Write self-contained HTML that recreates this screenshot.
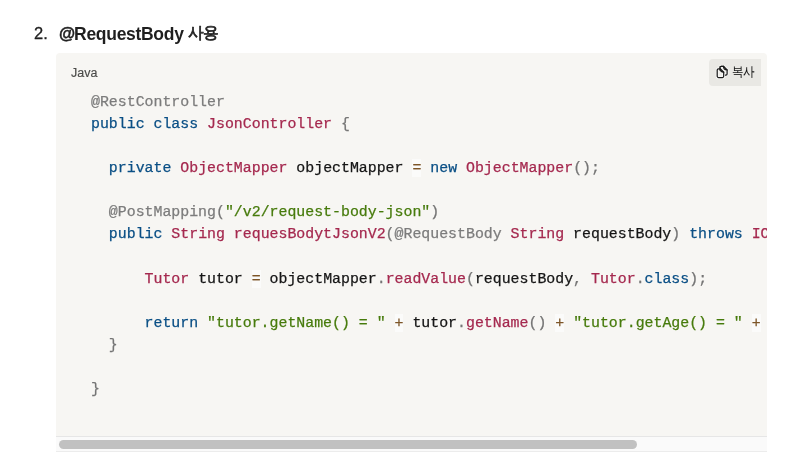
<!DOCTYPE html>
<html><head><meta charset="utf-8">
<style>
html,body{margin:0;padding:0;background:#fff;width:800px;height:455px;overflow:hidden;position:relative}
body{will-change:transform}
body{font-family:"Liberation Sans",sans-serif;color:#1f1f1f}
.h{position:absolute;top:0;left:0;font-size:16.5px;line-height:20px;white-space:nowrap}
.num{position:absolute;left:34px;top:23px;-webkit-text-stroke:0.3px #1f1f1f}
.ttl{position:absolute;left:59px;top:22.5px;font-weight:bold;font-size:17.5px;letter-spacing:0}
.blk{position:absolute;left:56px;top:53px;width:711px;height:383px;background:#f7f6f3;border-radius:4px 4px 0 0;overflow:hidden}
.ko{position:absolute;left:188px;top:22.4px;font-size:30px;line-height:40px;white-space:nowrap;letter-spacing:-1.2px;transform:scale(0.53,0.54);transform-origin:0 0;-webkit-text-stroke:1.3px #1f1f1f}
.lang{position:absolute;left:15px;top:12px;font-size:12.5px;line-height:16px;color:#4a4a48;-webkit-text-stroke:0.15px #4a4a48}
.copy{position:absolute;left:653px;top:6px;width:52px;height:27px;background:#e9e8e4;border-radius:4px 0 0 4px}
.copy svg{position:absolute;left:3px;top:2px}
.copy span{white-space:nowrap;position:absolute;left:23px;top:3.8px;font-size:24px;line-height:34px;color:#111;letter-spacing:-0.6px;transform:scale(0.47,0.53);transform-origin:0 0;-webkit-text-stroke:0.15px #111}
.code{position:absolute;left:35px;top:37.8px;font-family:"Liberation Mono",monospace;font-size:14.885px;line-height:22.1px;white-space:pre;color:#161616;-webkit-text-stroke:0.25px currentColor}
.k{color:#0a4f85}
.c{color:#a5294f}
.p{color:#757575}
.a{color:#7c7c7c}
.s{color:#477b0c}
.o{color:#7d5628;background:rgba(255,255,255,.55);padding:1px 0}
.track{position:absolute;left:56px;top:436px;width:711px;height:14px;background:#fafafa;border-top:1px solid #e6e6e6;border-bottom:1px solid #ececec}
.thumb{position:absolute;left:3px;top:3px;width:578px;height:9px;border-radius:5px;background:#c1c1c1}
</style></head><body>
<div class="num h">2.</div>
<div class="ttl h"><span style="font-size:16.5px;letter-spacing:-1px;vertical-align:0.5px;-webkit-text-stroke:0.5px #1f1f1f">@</span><span style="letter-spacing:-0.3px">RequestBody</span></div>
<div class="ko">사용</div>
<div class="blk">
  <div class="lang">Java</div>
  <div class="copy">
    <svg width="20" height="22" viewBox="0 0 20 22" fill="none" stroke-linejoin="round" stroke-linecap="round">
      <path d="M7.9 6.6 Q7.9 5.3 9.2 5.3 L11.5 5.3 L15.1 8.9 L15.1 13 Q15.1 14.1 14 14.1 L9.2 14.1 Q7.9 14.1 7.9 13 Z" stroke="#fbfbfa" stroke-width="2.6" fill="#efeeea"/>
      <path d="M7.9 6.6 Q7.9 5.3 9.2 5.3 L11.5 5.3 L15.1 8.9 L15.1 13 Q15.1 14.1 14 14.1 L9.2 14.1 Q7.9 14.1 7.9 13 Z" stroke="#1a1a1a" stroke-width="1.25"/>
      <path d="M11.5 5.3 Q11.5 8.9 15.1 8.9" stroke="#1a1a1a" stroke-width="1.25"/>
      <path d="M5.2 9.1 Q5.2 7.8 6.5 7.8 L8.3 7.8 L11.7 11.2 L11.7 15.3 Q11.7 16.5 10.5 16.5 L6.5 16.5 Q5.2 16.5 5.2 15.3 Z" stroke="#fbfbfa" stroke-width="2.6" fill="#efeeea"/>
      <path d="M5.2 9.1 Q5.2 7.8 6.5 7.8 L8.3 7.8 L11.7 11.2 L11.7 15.3 Q11.7 16.5 10.5 16.5 L6.5 16.5 Q5.2 16.5 5.2 15.3 Z" stroke="#1a1a1a" stroke-width="1.25"/>
      <path d="M8.3 7.8 Q8.3 11.2 11.7 11.2" stroke="#1a1a1a" stroke-width="1.25"/>
      <path d="M7.9 9 L7.9 6.6 Q7.9 5.3 9.2 5.3 L11.5 5.3" stroke="#1a1a1a" stroke-width="1.25"/>
    </svg>
    <span>복사</span>
  </div>
  <div class="code"><span class="a">@RestController</span>
<span class="k">public</span> <span class="k">class</span> <span class="c">JsonController</span> <span class="p">{</span>

  <span class="k">private</span> <span class="c">ObjectMapper</span> objectMapper <span class="o">=</span> <span class="k">new</span> <span class="c">ObjectMapper</span><span class="p">();</span>

  <span class="a">@PostMapping</span><span class="p">(</span><span class="s">"/v2/request-body-json"</span><span class="p">)</span>
  <span class="k">public</span> <span class="c">String</span> <span class="c">requesBodytJsonV2</span><span class="p">(</span><span class="a">@RequestBody</span> <span class="c">String</span> requestBody<span class="p">)</span> <span class="k">throws</span> <span class="c">IOException</span> <span class="p">{</span>

      <span class="c">Tutor</span> tutor <span class="o">=</span> objectMapper<span class="p">.</span><span class="c">readValue</span><span class="p">(</span>requestBody<span class="p">,</span> <span class="c">Tutor</span><span class="p">.</span><span class="k">class</span><span class="p">);</span>

      <span class="k">return</span> <span class="s">"tutor.getName() = "</span> <span class="o">+</span> tutor<span class="p">.</span><span class="c">getName</span><span class="p">()</span> <span class="o">+</span> <span class="s">"tutor.getAge() = "</span> <span class="o">+</span> tutor<span class="p">.</span><span class="c">getAge</span><span class="p">();</span>
  <span class="p">}</span>

<span class="p">}</span></div>
</div>
<div class="track"><div class="thumb"></div></div>
</body></html>
